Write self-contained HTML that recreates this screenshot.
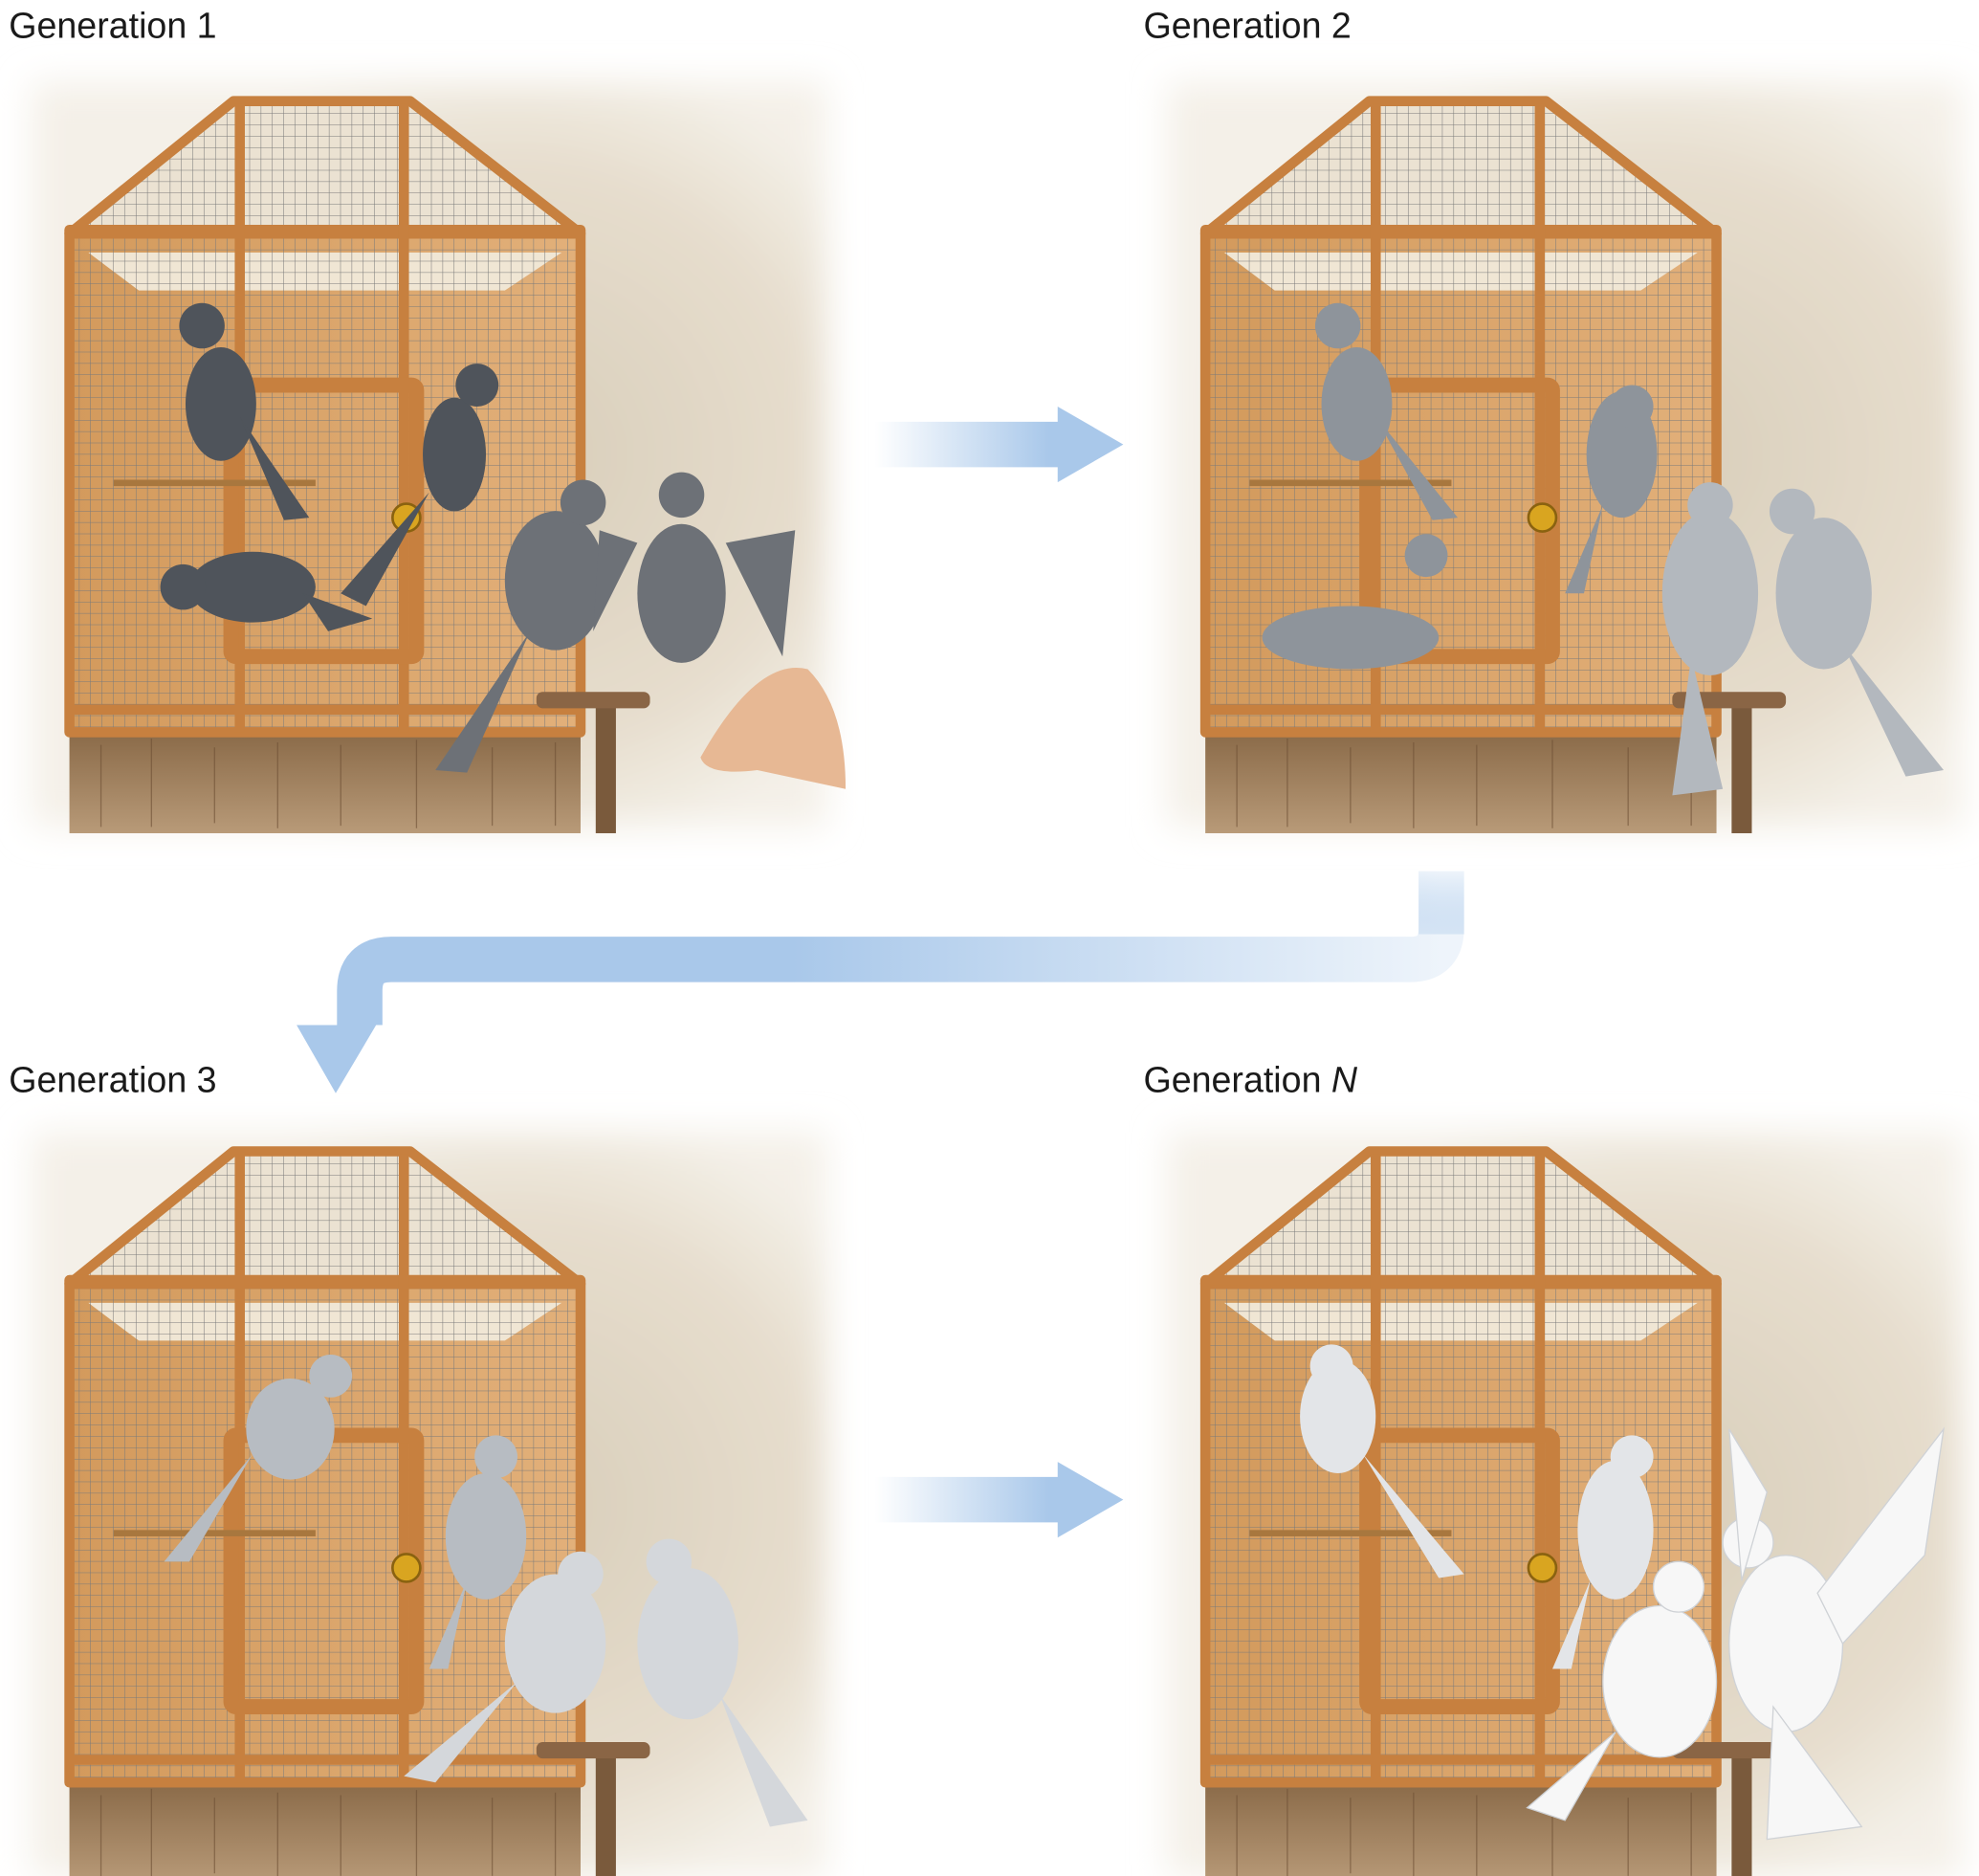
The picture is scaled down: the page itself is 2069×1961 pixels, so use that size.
<!DOCTYPE html>
<html><head><meta charset="utf-8"><style>
html,body{margin:0;padding:0;background:#fff;}
svg{display:block;}
text{font-family:"Liberation Sans",sans-serif;font-size:28.5px;fill:#1a1a1a;}
</style></head><body>
<svg width="2069" height="1961" viewBox="0 0 1568 1486" xmlns="http://www.w3.org/2000/svg">
<defs>
<filter id="soft" x="-10%" y="-10%" width="120%" height="120%"><feGaussianBlur stdDeviation="14"/></filter>
<radialGradient id="bg" cx="0.6" cy="0.5" r="0.55">
<stop offset="0" stop-color="#d8cdb9"/><stop offset="0.7" stop-color="#e6ddcd"/><stop offset="1" stop-color="#f4f0e8"/>
</radialGradient>
<linearGradient id="arr" x1="0" x2="1"><stop offset="0" stop-color="#a9c8ea" stop-opacity="0"/><stop offset="0.7" stop-color="#a9c8ea"/></linearGradient>
<linearGradient id="arr2" x1="1" x2="0"><stop offset="0" stop-color="#a9c8ea" stop-opacity="0.2"/><stop offset="0.6" stop-color="#a9c8ea"/></linearGradient>
<linearGradient id="arrv" x1="0" x2="0" y1="0" y2="1"><stop offset="0" stop-color="#a9c8ea" stop-opacity="0"/><stop offset="1" stop-color="#d5e4f4"/></linearGradient>
<pattern id="grid" width="9" height="9" patternUnits="userSpaceOnUse"><path d="M9 0V9M0 9H9" stroke="#7a7a7a" stroke-width="0.8" fill="none"/></pattern>
<linearGradient id="wall" x1="0" x2="1"><stop offset="0" stop-color="#d39a5c"/><stop offset="1" stop-color="#e2b07a"/></linearGradient>
<linearGradient id="base" x1="0" x2="0" y1="0" y2="1"><stop offset="0" stop-color="#8a6a48"/><stop offset="1" stop-color="#b89a78"/></linearGradient>
<g id="cage">
<rect x="25" y="65" width="630" height="590" fill="url(#bg)" filter="url(#soft)"/>
<rect x="55" y="580" width="405" height="80" fill="url(#base)"/>
<g stroke="#6e5035" stroke-width="1" opacity="0.6"><path d="M80 590v65M120 585v70M170 592v60M220 588v68M270 590v64M330 586v70M390 592v62M440 588v66"/></g>
<rect x="472" y="550" width="16" height="110" fill="#7a5a3c"/>
<polygon points="55,185 185,80 325,80 460,185" fill="#ebe2d2"/>
<rect x="55" y="185" width="405" height="395" fill="url(#wall)"/>
<polygon points="70,200 445,200 400,230 110,230" fill="#f0e6d4"/>
<polygon points="55,185 185,80 325,80 460,185" fill="url(#grid)"/>
<rect x="55" y="185" width="405" height="395" fill="url(#grid)"/>
<g fill="none" stroke="#c7803f" stroke-width="8" stroke-linejoin="round">
<polygon points="55,185 185,80 325,80 460,185"/>
<rect x="55" y="182" width="405" height="398"/>
<path d="M190 82V580M320 82V580M55 562H460"/>
</g>
<rect x="183" y="305" width="147" height="215" rx="4" fill="none" stroke="#c7803f" stroke-width="12"/>
<circle cx="322" cy="410" r="11" fill="#d9a520" stroke="#8a6210" stroke-width="2"/>
<rect x="90" y="380" width="160" height="5" fill="#a8773e"/>
<rect x="425" y="548" width="90" height="13" rx="5" fill="#8a6545"/>
</g>
</defs>

<text x="7" y="30">Generation 1</text>
<text x="906" y="30">Generation 2</text>
<text x="7" y="865">Generation 3</text>
<text x="906" y="865">Generation <tspan font-style="italic">N</tspan></text>

<use href="#cage"/>
<use href="#cage" x="900"/>
<use href="#cage" y="832"/>
<use href="#cage" x="900" y="832"/>

<polygon points="693,334 838,334 838,322 890,352 838,382 838,370 693,370" fill="url(#arr)"/>
<polygon points="693,1170 838,1170 838,1158 890,1188 838,1218 838,1206 693,1206" fill="url(#arr)"/>
<path d="M1142 690 V735 Q1142 760 1117 760 H310 Q285 760 285 785 V812" fill="none" stroke="url(#arr2)" stroke-width="36"/>
<rect x="1124" y="690" width="36" height="50" fill="url(#arrv)"/>
<polygon points="235,812 298,812 266,866" fill="#a9c8ea"/>

<g fill="#4f545b"><ellipse cx="175" cy="320" rx="28" ry="45"/><circle cx="160" cy="258" r="18"/><path d="M190 330 L245 410 L225 412Z"/>
<ellipse cx="360" cy="360" rx="25" ry="45"/><circle cx="378" cy="305" r="17"/><path d="M340 390 L270 470 L290 480Z"/>
<ellipse cx="200" cy="465" rx="50" ry="28"/><circle cx="145" cy="465" r="18"/><path d="M240 470 L295 490 L260 500Z"/></g>
<g fill="#6d7177"><ellipse cx="440" cy="460" rx="40" ry="55"/><circle cx="462" cy="398" r="18"/><path d="M420 500 L345 610 L370 612Z"/>
<ellipse cx="540" cy="470" rx="35" ry="55"/><circle cx="540" cy="392" r="18"/><path d="M505 430 L475 420 L470 500Z M575 430 L630 420 L620 520Z"/></g>
<path d="M555 600 Q600 520 640 530 Q670 560 670 625 L600 610 Q560 615 555 600Z" fill="#e7b894"/>
<g fill="#8e949b" transform="translate(900,0)">
<ellipse cx="175" cy="320" rx="28" ry="45"/><circle cx="160" cy="258" r="18"/><path d="M190 330 L255 410 L235 412Z"/>
<ellipse cx="385" cy="360" rx="28" ry="50"/><circle cx="393" cy="322" r="17"/><path d="M370 400 L340 470 L355 470Z"/>
<ellipse cx="170" cy="505" rx="70" ry="25"/><circle cx="230" cy="440" r="17"/>
<g fill="#b3b8be"><ellipse cx="455" cy="470" rx="38" ry="65"/><circle cx="455" cy="400" r="18"/><path d="M440 520 L425 630 L465 625Z"/>
<ellipse cx="545" cy="470" rx="38" ry="60"/><circle cx="520" cy="405" r="18"/><path d="M560 510 L640 610 L610 615Z"/></g>
</g>
<g fill="#b7bcc2" transform="translate(0,832)">
<ellipse cx="230" cy="300" rx="35" ry="40"/><circle cx="262" cy="258" r="17"/><path d="M200 320 L130 405 L150 405Z"/>
<ellipse cx="385" cy="385" rx="32" ry="50"/><circle cx="393" cy="322" r="17"/><path d="M370 420 L340 490 L355 490Z"/>
<g fill="#d4d7db"><ellipse cx="440" cy="470" rx="40" ry="55"/><circle cx="460" cy="415" r="18"/><path d="M410 500 L320 575 L345 580Z"/>
<ellipse cx="545" cy="470" rx="40" ry="60"/><circle cx="530" cy="405" r="18"/><path d="M570 510 L640 610 L610 615Z"/></g>
</g>
<g fill="#e3e5e8" transform="translate(900,832)">
<ellipse cx="160" cy="290" rx="30" ry="45"/><circle cx="155" cy="250" r="17"/><path d="M180 320 L260 415 L240 418Z"/>
<ellipse cx="380" cy="380" rx="30" ry="55"/><circle cx="393" cy="322" r="17"/><path d="M360 420 L330 490 L345 490Z"/>
<g fill="#f7f7f7" stroke="#cfd2d6" stroke-width="1"><ellipse cx="415" cy="500" rx="45" ry="60"/><circle cx="430" cy="425" r="20"/><path d="M380 540 L310 600 L340 610Z"/>
<ellipse cx="515" cy="470" rx="45" ry="70"/><circle cx="485" cy="390" r="20"/><path d="M505 520 L500 625 L575 615Z M540 430 L640 300 L625 400 L560 470Z M480 420 L470 300 L500 350Z"/></g>
</g>
</svg>
</body></html>
